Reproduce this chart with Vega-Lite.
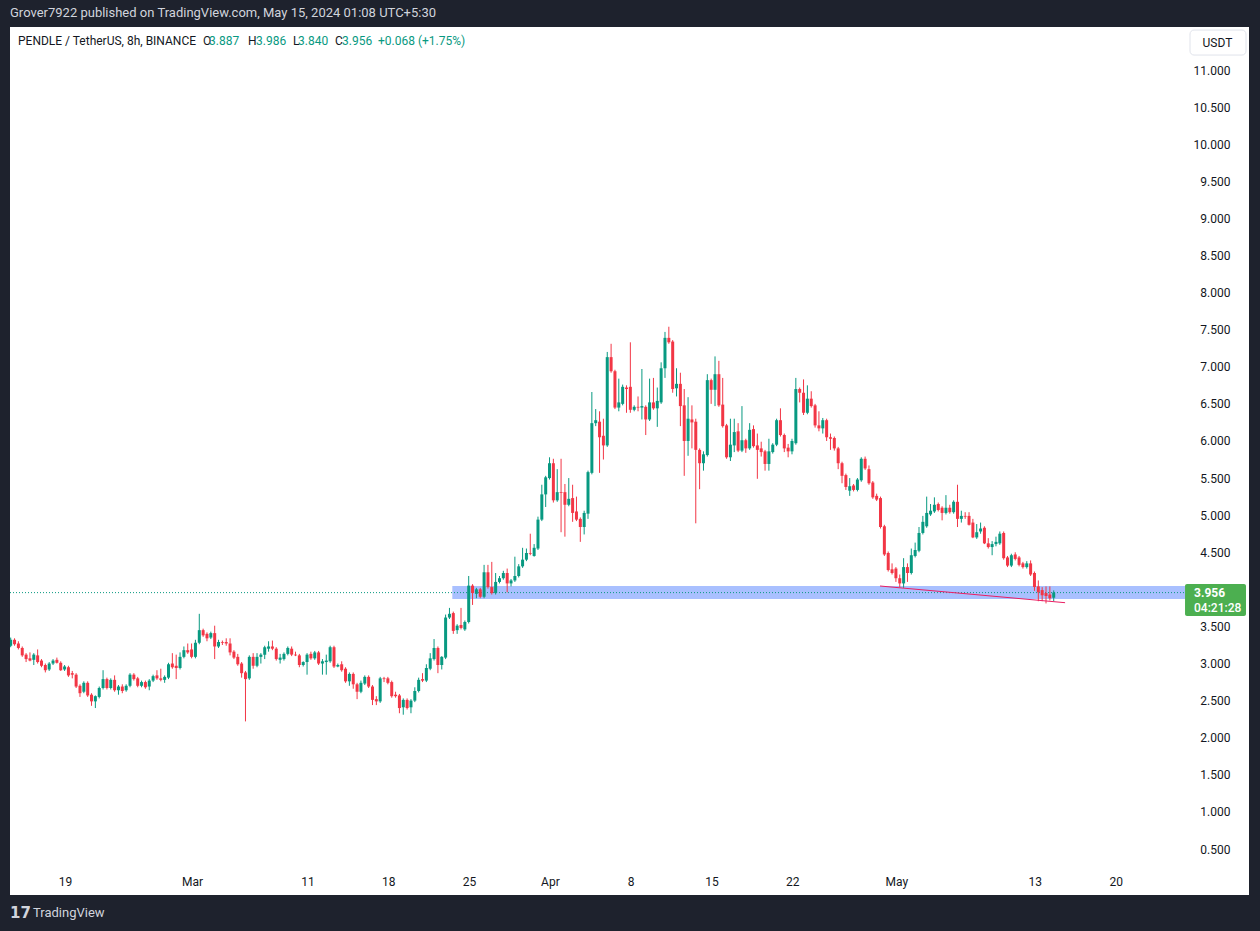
{
  "$schema": "https://vega.github.io/schema/vega-lite/v6.json",
  "description": "PENDLE / TetherUS 8h candlestick chart, TradingView snapshot",
  "width": 1239,
  "height": 868,
  "autosize": {"type": "none"},
  "padding": {"left": 10, "top": 27, "right": 11, "bottom": 36},
  "background": "#1e222d",
  "title": {
    "text": "Grover7922 published on TradingView.com, May 15, 2024 01:08 UTC+5:30",
    "anchor": "start",
    "frame": "group",
    "color": "#d1d4dc",
    "font": "Roboto",
    "fontSize": 13,
    "fontWeight": "normal",
    "offset": 7
  },
  "datasets": {
    "candles": [
      {"t":"2024-02-14T13:30Z","o":3.24,"h":3.35,"l":3.22,"c":3.32},
      {"t":"2024-02-14T21:30Z","o":3.32,"h":3.34,"l":3.24,"c":3.26},
      {"t":"2024-02-15T05:30Z","o":3.27,"h":3.30,"l":3.19,"c":3.21},
      {"t":"2024-02-15T13:30Z","o":3.21,"h":3.23,"l":3.09,"c":3.11},
      {"t":"2024-02-15T21:30Z","o":3.12,"h":3.14,"l":3.02,"c":3.06},
      {"t":"2024-02-16T05:30Z","o":3.07,"h":3.15,"l":3.03,"c":3.04},
      {"t":"2024-02-16T13:30Z","o":3.05,"h":3.14,"l":2.98,"c":3.12},
      {"t":"2024-02-16T21:30Z","o":3.11,"h":3.19,"l":3.00,"c":3.02},
      {"t":"2024-02-17T05:30Z","o":3.04,"h":3.06,"l":2.95,"c":2.97},
      {"t":"2024-02-17T13:30Z","o":2.98,"h":3.00,"l":2.88,"c":2.91},
      {"t":"2024-02-17T21:30Z","o":2.92,"h":3.02,"l":2.90,"c":3.00},
      {"t":"2024-02-18T05:30Z","o":3.00,"h":3.06,"l":2.98,"c":3.04},
      {"t":"2024-02-18T13:30Z","o":3.05,"h":3.08,"l":3.00,"c":3.01},
      {"t":"2024-02-18T21:30Z","o":3.01,"h":3.03,"l":2.90,"c":2.91},
      {"t":"2024-02-19T05:30Z","o":2.92,"h":2.98,"l":2.90,"c":2.96},
      {"t":"2024-02-19T13:30Z","o":2.95,"h":2.97,"l":2.82,"c":2.84},
      {"t":"2024-02-19T21:30Z","o":2.87,"h":2.90,"l":2.80,"c":2.85},
      {"t":"2024-02-20T05:30Z","o":2.85,"h":2.87,"l":2.67,"c":2.69},
      {"t":"2024-02-20T13:30Z","o":2.70,"h":2.72,"l":2.55,"c":2.60},
      {"t":"2024-02-20T21:30Z","o":2.62,"h":2.76,"l":2.60,"c":2.74},
      {"t":"2024-02-21T05:30Z","o":2.74,"h":2.76,"l":2.55,"c":2.57},
      {"t":"2024-02-21T13:30Z","o":2.58,"h":2.60,"l":2.43,"c":2.49},
      {"t":"2024-02-21T21:30Z","o":2.49,"h":2.57,"l":2.40,"c":2.56},
      {"t":"2024-02-22T05:30Z","o":2.55,"h":2.69,"l":2.53,"c":2.67},
      {"t":"2024-02-22T13:30Z","o":2.67,"h":2.91,"l":2.65,"c":2.79},
      {"t":"2024-02-22T21:30Z","o":2.79,"h":2.81,"l":2.65,"c":2.67},
      {"t":"2024-02-23T05:30Z","o":2.67,"h":2.80,"l":2.65,"c":2.78},
      {"t":"2024-02-23T13:30Z","o":2.78,"h":2.84,"l":2.62,"c":2.64},
      {"t":"2024-02-23T21:30Z","o":2.64,"h":2.71,"l":2.58,"c":2.69},
      {"t":"2024-02-24T05:30Z","o":2.69,"h":2.72,"l":2.60,"c":2.63},
      {"t":"2024-02-24T13:30Z","o":2.64,"h":2.72,"l":2.62,"c":2.70},
      {"t":"2024-02-24T21:30Z","o":2.70,"h":2.87,"l":2.68,"c":2.85},
      {"t":"2024-02-25T05:30Z","o":2.85,"h":2.87,"l":2.77,"c":2.79},
      {"t":"2024-02-25T13:30Z","o":2.80,"h":2.82,"l":2.68,"c":2.70},
      {"t":"2024-02-25T21:30Z","o":2.70,"h":2.77,"l":2.68,"c":2.75},
      {"t":"2024-02-26T05:30Z","o":2.75,"h":2.77,"l":2.66,"c":2.68},
      {"t":"2024-02-26T13:30Z","o":2.69,"h":2.79,"l":2.64,"c":2.77},
      {"t":"2024-02-26T21:30Z","o":2.77,"h":2.85,"l":2.75,"c":2.83},
      {"t":"2024-02-27T05:30Z","o":2.84,"h":2.91,"l":2.78,"c":2.80},
      {"t":"2024-02-27T13:30Z","o":2.80,"h":2.93,"l":2.76,"c":2.78},
      {"t":"2024-02-27T21:30Z","o":2.78,"h":2.84,"l":2.74,"c":2.82},
      {"t":"2024-02-28T05:30Z","o":2.81,"h":3.01,"l":2.79,"c":2.99},
      {"t":"2024-02-28T13:30Z","o":3.00,"h":3.14,"l":2.93,"c":2.95},
      {"t":"2024-02-28T21:30Z","o":2.97,"h":3.12,"l":2.79,"c":2.94},
      {"t":"2024-02-29T05:30Z","o":2.94,"h":3.15,"l":2.92,"c":3.09},
      {"t":"2024-02-29T13:30Z","o":3.09,"h":3.23,"l":3.07,"c":3.18},
      {"t":"2024-02-29T21:30Z","o":3.18,"h":3.27,"l":3.13,"c":3.15},
      {"t":"2024-03-01T05:30Z","o":3.19,"h":3.27,"l":3.07,"c":3.09},
      {"t":"2024-03-01T13:30Z","o":3.09,"h":3.32,"l":3.07,"c":3.28},
      {"t":"2024-03-01T21:30Z","o":3.28,"h":3.67,"l":3.26,"c":3.45},
      {"t":"2024-03-02T05:30Z","o":3.45,"h":3.47,"l":3.36,"c":3.38},
      {"t":"2024-03-02T13:30Z","o":3.40,"h":3.42,"l":3.30,"c":3.34},
      {"t":"2024-03-02T21:30Z","o":3.35,"h":3.43,"l":3.33,"c":3.41},
      {"t":"2024-03-03T05:30Z","o":3.41,"h":3.51,"l":3.06,"c":3.23},
      {"t":"2024-03-03T13:30Z","o":3.23,"h":3.32,"l":3.21,"c":3.29},
      {"t":"2024-03-03T21:30Z","o":3.29,"h":3.31,"l":3.25,"c":3.28},
      {"t":"2024-03-04T05:30Z","o":3.29,"h":3.34,"l":3.24,"c":3.27},
      {"t":"2024-03-04T13:30Z","o":3.27,"h":3.34,"l":3.11,"c":3.15},
      {"t":"2024-03-04T21:30Z","o":3.16,"h":3.18,"l":3.06,"c":3.08},
      {"t":"2024-03-05T05:30Z","o":3.09,"h":3.13,"l":2.97,"c":2.99},
      {"t":"2024-03-05T13:30Z","o":3.00,"h":3.02,"l":2.81,"c":2.87},
      {"t":"2024-03-05T21:30Z","o":2.88,"h":2.90,"l":2.22,"c":2.79},
      {"t":"2024-03-06T05:30Z","o":2.80,"h":3.11,"l":2.78,"c":3.09},
      {"t":"2024-03-06T13:30Z","o":3.09,"h":3.14,"l":2.93,"c":2.97},
      {"t":"2024-03-06T21:30Z","o":2.97,"h":3.14,"l":2.95,"c":3.09},
      {"t":"2024-03-07T05:30Z","o":3.09,"h":3.14,"l":3.00,"c":3.12},
      {"t":"2024-03-07T13:30Z","o":3.12,"h":3.24,"l":3.06,"c":3.22},
      {"t":"2024-03-07T21:30Z","o":3.20,"h":3.30,"l":3.16,"c":3.23},
      {"t":"2024-03-08T05:30Z","o":3.23,"h":3.31,"l":3.18,"c":3.20},
      {"t":"2024-03-08T13:30Z","o":3.20,"h":3.22,"l":3.04,"c":3.06},
      {"t":"2024-03-08T21:30Z","o":3.05,"h":3.13,"l":3.00,"c":3.08},
      {"t":"2024-03-09T05:30Z","o":3.06,"h":3.15,"l":3.04,"c":3.13},
      {"t":"2024-03-09T13:30Z","o":3.13,"h":3.23,"l":3.11,"c":3.21},
      {"t":"2024-03-09T21:30Z","o":3.20,"h":3.23,"l":3.10,"c":3.12},
      {"t":"2024-03-10T05:30Z","o":3.12,"h":3.16,"l":3.10,"c":3.11},
      {"t":"2024-03-10T13:30Z","o":3.11,"h":3.13,"l":2.95,"c":2.98},
      {"t":"2024-03-10T21:30Z","o":2.98,"h":3.03,"l":2.96,"c":3.02},
      {"t":"2024-03-11T05:30Z","o":3.02,"h":3.14,"l":2.85,"c":3.12},
      {"t":"2024-03-11T13:30Z","o":3.13,"h":3.16,"l":3.05,"c":3.07},
      {"t":"2024-03-11T21:30Z","o":3.07,"h":3.17,"l":3.05,"c":3.15},
      {"t":"2024-03-12T05:30Z","o":3.15,"h":3.17,"l":2.98,"c":3.00},
      {"t":"2024-03-12T13:30Z","o":3.00,"h":3.06,"l":2.85,"c":3.03},
      {"t":"2024-03-12T21:30Z","o":3.02,"h":3.12,"l":2.85,"c":3.04},
      {"t":"2024-03-13T05:30Z","o":3.03,"h":3.24,"l":3.01,"c":3.22},
      {"t":"2024-03-13T13:30Z","o":3.22,"h":3.24,"l":2.94,"c":2.96},
      {"t":"2024-03-13T21:30Z","o":2.96,"h":3.00,"l":2.95,"c":2.98},
      {"t":"2024-03-14T05:30Z","o":2.99,"h":3.03,"l":2.89,"c":2.91},
      {"t":"2024-03-14T13:30Z","o":2.93,"h":2.95,"l":2.74,"c":2.76},
      {"t":"2024-03-14T21:30Z","o":2.76,"h":2.88,"l":2.70,"c":2.86},
      {"t":"2024-03-15T05:30Z","o":2.86,"h":2.88,"l":2.66,"c":2.72},
      {"t":"2024-03-15T13:30Z","o":2.72,"h":2.74,"l":2.52,"c":2.62},
      {"t":"2024-03-15T21:30Z","o":2.62,"h":2.77,"l":2.60,"c":2.74},
      {"t":"2024-03-16T05:30Z","o":2.73,"h":2.84,"l":2.71,"c":2.82},
      {"t":"2024-03-16T13:30Z","o":2.82,"h":2.84,"l":2.67,"c":2.69},
      {"t":"2024-03-16T21:30Z","o":2.69,"h":2.71,"l":2.44,"c":2.51},
      {"t":"2024-03-17T05:30Z","o":2.52,"h":2.56,"l":2.44,"c":2.49},
      {"t":"2024-03-17T13:30Z","o":2.49,"h":2.82,"l":2.47,"c":2.80},
      {"t":"2024-03-17T21:30Z","o":2.80,"h":2.82,"l":2.75,"c":2.79},
      {"t":"2024-03-18T05:30Z","o":2.80,"h":2.82,"l":2.72,"c":2.74},
      {"t":"2024-03-18T13:30Z","o":2.75,"h":2.77,"l":2.54,"c":2.56},
      {"t":"2024-03-18T21:30Z","o":2.58,"h":2.62,"l":2.54,"c":2.56},
      {"t":"2024-03-19T05:30Z","o":2.57,"h":2.59,"l":2.33,"c":2.40},
      {"t":"2024-03-19T13:30Z","o":2.41,"h":2.53,"l":2.31,"c":2.51},
      {"t":"2024-03-19T21:30Z","o":2.51,"h":2.53,"l":2.38,"c":2.40},
      {"t":"2024-03-20T05:30Z","o":2.41,"h":2.52,"l":2.33,"c":2.50},
      {"t":"2024-03-20T13:30Z","o":2.50,"h":2.68,"l":2.48,"c":2.63},
      {"t":"2024-03-20T21:30Z","o":2.63,"h":2.81,"l":2.61,"c":2.78},
      {"t":"2024-03-21T05:30Z","o":2.79,"h":2.87,"l":2.75,"c":2.77},
      {"t":"2024-03-21T13:30Z","o":2.77,"h":2.99,"l":2.75,"c":2.94},
      {"t":"2024-03-21T21:30Z","o":2.93,"h":3.14,"l":2.91,"c":3.07},
      {"t":"2024-03-22T05:30Z","o":3.06,"h":3.33,"l":3.04,"c":3.21},
      {"t":"2024-03-22T13:30Z","o":3.21,"h":3.23,"l":2.87,"c":2.98},
      {"t":"2024-03-22T21:30Z","o":2.98,"h":3.10,"l":2.92,"c":3.09},
      {"t":"2024-03-23T05:30Z","o":3.08,"h":3.66,"l":3.06,"c":3.62},
      {"t":"2024-03-23T13:30Z","o":3.62,"h":3.75,"l":3.60,"c":3.67},
      {"t":"2024-03-23T21:30Z","o":3.68,"h":3.70,"l":3.40,"c":3.44},
      {"t":"2024-03-24T05:30Z","o":3.45,"h":3.53,"l":3.40,"c":3.51},
      {"t":"2024-03-24T13:30Z","o":3.52,"h":3.75,"l":3.46,"c":3.48},
      {"t":"2024-03-24T21:30Z","o":3.46,"h":3.58,"l":3.44,"c":3.56},
      {"t":"2024-03-25T05:30Z","o":3.56,"h":4.18,"l":3.54,"c":4.05},
      {"t":"2024-03-25T13:30Z","o":4.05,"h":4.07,"l":3.79,"c":3.95},
      {"t":"2024-03-25T21:30Z","o":3.94,"h":4.02,"l":3.88,"c":4.00},
      {"t":"2024-03-26T05:30Z","o":4.00,"h":4.02,"l":3.88,"c":3.90},
      {"t":"2024-03-26T13:30Z","o":3.90,"h":4.33,"l":3.88,"c":4.23},
      {"t":"2024-03-26T21:30Z","o":4.23,"h":4.33,"l":4.01,"c":4.03},
      {"t":"2024-03-27T05:30Z","o":4.03,"h":4.37,"l":3.93,"c":3.95},
      {"t":"2024-03-27T13:30Z","o":3.95,"h":4.22,"l":3.93,"c":4.10},
      {"t":"2024-03-27T21:30Z","o":4.10,"h":4.18,"l":4.08,"c":4.15},
      {"t":"2024-03-28T05:30Z","o":4.15,"h":4.25,"l":4.13,"c":4.22},
      {"t":"2024-03-28T13:30Z","o":4.22,"h":4.28,"l":3.96,"c":4.08},
      {"t":"2024-03-28T21:30Z","o":4.08,"h":4.14,"l":4.04,"c":4.12},
      {"t":"2024-03-29T05:30Z","o":4.12,"h":4.44,"l":4.10,"c":4.18},
      {"t":"2024-03-29T13:30Z","o":4.18,"h":4.34,"l":4.16,"c":4.31},
      {"t":"2024-03-29T21:30Z","o":4.31,"h":4.56,"l":4.29,"c":4.40},
      {"t":"2024-03-30T05:30Z","o":4.40,"h":4.55,"l":4.38,"c":4.49},
      {"t":"2024-03-30T13:30Z","o":4.49,"h":4.75,"l":4.46,"c":4.48},
      {"t":"2024-03-30T21:30Z","o":4.45,"h":4.61,"l":4.44,"c":4.56},
      {"t":"2024-03-31T05:30Z","o":4.55,"h":4.98,"l":4.53,"c":4.94},
      {"t":"2024-03-31T13:30Z","o":4.94,"h":5.41,"l":4.92,"c":5.28},
      {"t":"2024-03-31T21:30Z","o":5.28,"h":5.53,"l":5.11,"c":5.51},
      {"t":"2024-04-01T05:30Z","o":5.50,"h":5.78,"l":5.48,"c":5.70},
      {"t":"2024-04-01T13:30Z","o":5.70,"h":5.76,"l":5.17,"c":5.20},
      {"t":"2024-04-01T21:30Z","o":5.20,"h":5.62,"l":5.18,"c":5.31},
      {"t":"2024-04-02T05:30Z","o":5.31,"h":5.76,"l":4.77,"c":5.30},
      {"t":"2024-04-02T13:30Z","o":5.31,"h":5.42,"l":4.71,"c":5.14},
      {"t":"2024-04-02T21:30Z","o":5.14,"h":5.50,"l":5.12,"c":5.22},
      {"t":"2024-04-03T05:30Z","o":5.23,"h":5.41,"l":4.91,"c":5.03},
      {"t":"2024-04-03T13:30Z","o":5.05,"h":5.25,"l":4.92,"c":4.94},
      {"t":"2024-04-03T21:30Z","o":4.95,"h":4.97,"l":4.64,"c":4.84},
      {"t":"2024-04-04T05:30Z","o":4.84,"h":5.06,"l":4.74,"c":5.03},
      {"t":"2024-04-04T13:30Z","o":5.02,"h":5.60,"l":4.95,"c":5.58},
      {"t":"2024-04-04T21:30Z","o":5.57,"h":6.66,"l":5.55,"c":6.24},
      {"t":"2024-04-05T05:30Z","o":6.24,"h":6.43,"l":6.20,"c":6.28},
      {"t":"2024-04-05T13:30Z","o":6.26,"h":6.40,"l":5.57,"c":6.05},
      {"t":"2024-04-05T21:30Z","o":6.07,"h":6.30,"l":5.75,"c":5.94},
      {"t":"2024-04-06T05:30Z","o":5.94,"h":7.20,"l":5.92,"c":7.13},
      {"t":"2024-04-06T13:30Z","o":7.13,"h":7.31,"l":6.92,"c":6.94},
      {"t":"2024-04-06T21:30Z","o":6.94,"h":6.96,"l":6.43,"c":6.45},
      {"t":"2024-04-07T05:30Z","o":6.45,"h":6.84,"l":6.40,"c":6.52},
      {"t":"2024-04-07T13:30Z","o":6.50,"h":6.76,"l":6.48,"c":6.73},
      {"t":"2024-04-07T21:30Z","o":6.72,"h":6.75,"l":6.38,"c":6.70},
      {"t":"2024-04-08T05:30Z","o":6.73,"h":7.33,"l":6.38,"c":6.42},
      {"t":"2024-04-08T13:30Z","o":6.42,"h":6.48,"l":6.40,"c":6.46},
      {"t":"2024-04-08T21:30Z","o":6.46,"h":6.60,"l":6.40,"c":6.45},
      {"t":"2024-04-09T05:30Z","o":6.45,"h":6.97,"l":6.29,"c":6.47},
      {"t":"2024-04-09T13:30Z","o":6.46,"h":6.48,"l":6.08,"c":6.29},
      {"t":"2024-04-09T21:30Z","o":6.29,"h":6.84,"l":6.27,"c":6.52},
      {"t":"2024-04-10T05:30Z","o":6.52,"h":6.85,"l":6.42,"c":6.44},
      {"t":"2024-04-10T13:30Z","o":6.44,"h":6.72,"l":6.19,"c":6.54},
      {"t":"2024-04-10T21:30Z","o":6.52,"h":7.06,"l":6.50,"c":6.98},
      {"t":"2024-04-11T05:30Z","o":6.98,"h":7.47,"l":6.85,"c":7.39},
      {"t":"2024-04-11T13:30Z","o":7.39,"h":7.54,"l":7.31,"c":7.33},
      {"t":"2024-04-11T21:30Z","o":7.34,"h":7.36,"l":6.65,"c":6.70},
      {"t":"2024-04-12T05:30Z","o":6.71,"h":6.98,"l":6.60,"c":6.77},
      {"t":"2024-04-12T13:30Z","o":6.77,"h":6.92,"l":6.20,"c":6.47},
      {"t":"2024-04-12T21:30Z","o":6.48,"h":6.70,"l":5.53,"c":6.00},
      {"t":"2024-04-13T05:30Z","o":6.00,"h":6.59,"l":5.80,"c":6.30},
      {"t":"2024-04-13T13:30Z","o":6.29,"h":6.48,"l":5.90,"c":6.25},
      {"t":"2024-04-13T21:30Z","o":6.26,"h":6.30,"l":4.89,"c":5.88},
      {"t":"2024-04-14T05:30Z","o":5.88,"h":5.90,"l":5.35,"c":5.70},
      {"t":"2024-04-14T13:30Z","o":5.70,"h":5.86,"l":5.60,"c":5.82},
      {"t":"2024-04-14T21:30Z","o":5.81,"h":6.90,"l":5.79,"c":6.82},
      {"t":"2024-04-15T05:30Z","o":6.82,"h":6.84,"l":6.50,"c":6.69},
      {"t":"2024-04-15T13:30Z","o":6.69,"h":7.14,"l":6.47,"c":6.90},
      {"t":"2024-04-15T21:30Z","o":6.90,"h":7.08,"l":6.46,"c":6.48},
      {"t":"2024-04-16T05:30Z","o":6.49,"h":6.85,"l":6.18,"c":6.20},
      {"t":"2024-04-16T13:30Z","o":6.21,"h":6.23,"l":5.76,"c":5.78},
      {"t":"2024-04-16T21:30Z","o":5.78,"h":6.30,"l":5.73,"c":5.95},
      {"t":"2024-04-17T05:30Z","o":5.94,"h":6.30,"l":5.85,"c":6.12},
      {"t":"2024-04-17T13:30Z","o":6.13,"h":6.24,"l":5.85,"c":5.87},
      {"t":"2024-04-17T21:30Z","o":5.87,"h":6.47,"l":5.85,"c":6.01},
      {"t":"2024-04-18T05:30Z","o":6.01,"h":6.03,"l":5.84,"c":5.90},
      {"t":"2024-04-18T13:30Z","o":5.90,"h":6.24,"l":5.88,"c":6.15},
      {"t":"2024-04-18T21:30Z","o":6.16,"h":6.21,"l":5.91,"c":5.93},
      {"t":"2024-04-19T05:30Z","o":5.94,"h":6.10,"l":5.49,"c":5.88},
      {"t":"2024-04-19T13:30Z","o":5.90,"h":5.99,"l":5.79,"c":5.85},
      {"t":"2024-04-19T21:30Z","o":5.86,"h":5.88,"l":5.60,"c":5.69},
      {"t":"2024-04-20T05:30Z","o":5.69,"h":6.03,"l":5.60,"c":5.86},
      {"t":"2024-04-20T13:30Z","o":5.85,"h":5.97,"l":5.83,"c":5.95},
      {"t":"2024-04-20T21:30Z","o":5.95,"h":6.30,"l":5.93,"c":6.28},
      {"t":"2024-04-21T05:30Z","o":6.28,"h":6.44,"l":6.06,"c":6.08},
      {"t":"2024-04-21T13:30Z","o":6.08,"h":6.10,"l":5.85,"c":5.90},
      {"t":"2024-04-21T21:30Z","o":5.91,"h":5.96,"l":5.78,"c":5.86},
      {"t":"2024-04-22T05:30Z","o":5.86,"h":6.03,"l":5.82,"c":6.00},
      {"t":"2024-04-22T13:30Z","o":5.97,"h":6.85,"l":5.95,"c":6.70},
      {"t":"2024-04-22T21:30Z","o":6.70,"h":6.72,"l":6.52,"c":6.65},
      {"t":"2024-04-23T05:30Z","o":6.65,"h":6.83,"l":6.35,"c":6.38},
      {"t":"2024-04-23T13:30Z","o":6.38,"h":6.75,"l":6.36,"c":6.57},
      {"t":"2024-04-23T21:30Z","o":6.57,"h":6.67,"l":6.45,"c":6.47},
      {"t":"2024-04-24T05:30Z","o":6.48,"h":6.50,"l":6.18,"c":6.21},
      {"t":"2024-04-24T13:30Z","o":6.21,"h":6.40,"l":6.13,"c":6.17},
      {"t":"2024-04-24T21:30Z","o":6.17,"h":6.31,"l":6.10,"c":6.28},
      {"t":"2024-04-25T05:30Z","o":6.28,"h":6.30,"l":6.00,"c":6.05},
      {"t":"2024-04-25T13:30Z","o":6.05,"h":6.10,"l":5.88,"c":6.03},
      {"t":"2024-04-25T21:30Z","o":6.04,"h":6.06,"l":5.87,"c":5.90},
      {"t":"2024-04-26T05:30Z","o":5.90,"h":5.92,"l":5.62,"c":5.70},
      {"t":"2024-04-26T13:30Z","o":5.70,"h":5.72,"l":5.43,"c":5.53},
      {"t":"2024-04-26T21:30Z","o":5.54,"h":5.56,"l":5.34,"c":5.38},
      {"t":"2024-04-27T05:30Z","o":5.33,"h":5.50,"l":5.26,"c":5.39},
      {"t":"2024-04-27T13:30Z","o":5.40,"h":5.42,"l":5.32,"c":5.34},
      {"t":"2024-04-27T21:30Z","o":5.34,"h":5.50,"l":5.32,"c":5.48},
      {"t":"2024-04-28T05:30Z","o":5.47,"h":5.78,"l":5.45,"c":5.76},
      {"t":"2024-04-28T13:30Z","o":5.76,"h":5.79,"l":5.61,"c":5.63},
      {"t":"2024-04-28T21:30Z","o":5.62,"h":5.67,"l":5.41,"c":5.43},
      {"t":"2024-04-29T05:30Z","o":5.44,"h":5.46,"l":5.22,"c":5.24},
      {"t":"2024-04-29T13:30Z","o":5.26,"h":5.29,"l":5.19,"c":5.21},
      {"t":"2024-04-29T21:30Z","o":5.23,"h":5.25,"l":4.82,"c":4.84},
      {"t":"2024-04-30T05:30Z","o":4.85,"h":4.87,"l":4.45,"c":4.47},
      {"t":"2024-04-30T13:30Z","o":4.49,"h":4.51,"l":4.24,"c":4.26},
      {"t":"2024-04-30T21:30Z","o":4.27,"h":4.35,"l":4.20,"c":4.22},
      {"t":"2024-05-01T05:30Z","o":4.28,"h":4.30,"l":4.10,"c":4.15},
      {"t":"2024-05-01T13:30Z","o":4.15,"h":4.20,"l":4.03,"c":4.08},
      {"t":"2024-05-01T21:30Z","o":4.08,"h":4.42,"l":4.02,"c":4.30},
      {"t":"2024-05-02T05:30Z","o":4.30,"h":4.35,"l":4.10,"c":4.22},
      {"t":"2024-05-02T13:30Z","o":4.22,"h":4.55,"l":4.20,"c":4.46},
      {"t":"2024-05-02T21:30Z","o":4.45,"h":4.63,"l":4.43,"c":4.53},
      {"t":"2024-05-03T05:30Z","o":4.52,"h":4.84,"l":4.50,"c":4.76},
      {"t":"2024-05-03T13:30Z","o":4.76,"h":4.99,"l":4.74,"c":4.91},
      {"t":"2024-05-03T21:30Z","o":4.85,"h":5.25,"l":4.83,"c":5.03},
      {"t":"2024-05-04T05:30Z","o":5.01,"h":5.15,"l":4.99,"c":5.06},
      {"t":"2024-05-04T13:30Z","o":5.05,"h":5.24,"l":5.03,"c":5.14},
      {"t":"2024-05-04T21:30Z","o":5.15,"h":5.17,"l":5.05,"c":5.07},
      {"t":"2024-05-05T05:30Z","o":5.10,"h":5.12,"l":4.93,"c":5.03},
      {"t":"2024-05-05T13:30Z","o":5.03,"h":5.27,"l":5.01,"c":5.10},
      {"t":"2024-05-05T21:30Z","o":5.10,"h":5.14,"l":5.02,"c":5.04},
      {"t":"2024-05-06T05:30Z","o":5.04,"h":5.20,"l":5.02,"c":5.18},
      {"t":"2024-05-06T13:30Z","o":5.18,"h":5.41,"l":4.84,"c":4.95},
      {"t":"2024-05-06T21:30Z","o":4.95,"h":5.06,"l":4.90,"c":4.99},
      {"t":"2024-05-07T05:30Z","o":4.99,"h":5.04,"l":4.95,"c":4.98},
      {"t":"2024-05-07T13:30Z","o":4.99,"h":5.04,"l":4.86,"c":4.87},
      {"t":"2024-05-07T21:30Z","o":4.90,"h":4.95,"l":4.69,"c":4.70},
      {"t":"2024-05-08T05:30Z","o":4.70,"h":4.88,"l":4.68,"c":4.77},
      {"t":"2024-05-08T13:30Z","o":4.78,"h":4.90,"l":4.75,"c":4.82},
      {"t":"2024-05-08T21:30Z","o":4.83,"h":4.85,"l":4.61,"c":4.62},
      {"t":"2024-05-09T05:30Z","o":4.62,"h":4.69,"l":4.55,"c":4.57},
      {"t":"2024-05-09T13:30Z","o":4.57,"h":4.65,"l":4.46,"c":4.61},
      {"t":"2024-05-09T21:30Z","o":4.61,"h":4.71,"l":4.58,"c":4.64},
      {"t":"2024-05-10T05:30Z","o":4.62,"h":4.78,"l":4.60,"c":4.75},
      {"t":"2024-05-10T13:30Z","o":4.76,"h":4.78,"l":4.40,"c":4.42},
      {"t":"2024-05-10T21:30Z","o":4.43,"h":4.45,"l":4.30,"c":4.32},
      {"t":"2024-05-11T05:30Z","o":4.32,"h":4.48,"l":4.30,"c":4.46},
      {"t":"2024-05-11T13:30Z","o":4.47,"h":4.50,"l":4.39,"c":4.41},
      {"t":"2024-05-11T21:30Z","o":4.43,"h":4.45,"l":4.31,"c":4.33},
      {"t":"2024-05-12T05:30Z","o":4.35,"h":4.37,"l":4.28,"c":4.30},
      {"t":"2024-05-12T13:30Z","o":4.30,"h":4.38,"l":4.28,"c":4.35},
      {"t":"2024-05-12T21:30Z","o":4.35,"h":4.39,"l":4.18,"c":4.20},
      {"t":"2024-05-13T05:30Z","o":4.22,"h":4.24,"l":3.98,"c":4.03},
      {"t":"2024-05-13T13:30Z","o":4.04,"h":4.12,"l":3.84,"c":3.96},
      {"t":"2024-05-13T21:30Z","o":3.99,"h":4.03,"l":3.84,"c":3.92},
      {"t":"2024-05-14T05:30Z","o":3.95,"h":4.04,"l":3.81,"c":3.91},
      {"t":"2024-05-14T13:30Z","o":3.93,"h":4.04,"l":3.85,"c":3.88},
      {"t":"2024-05-14T21:30Z","o":3.887,"h":3.986,"l":3.840,"c":3.956}
    ],
    "header": [
      {"s": "PENDLE / TetherUS, 8h, BINANCE", "t": "2024-02-15T04:41Z", "k": "label"},
      {"s": "O", "t": "2024-03-02T05:14Z", "k": "label"},
      {"s": "3.887", "t": "2024-03-02T17:41Z", "k": "value"},
      {"s": "H", "t": "2024-03-06T02:45Z", "k": "label"},
      {"s": "3.986", "t": "2024-03-06T19:22Z", "k": "value"},
      {"s": "L", "t": "2024-03-10T00:17Z", "k": "label"},
      {"s": "3.840", "t": "2024-03-10T10:41Z", "k": "value"},
      {"s": "C", "t": "2024-03-13T15:36Z", "k": "label"},
      {"s": "3.956", "t": "2024-03-14T06:09Z", "k": "value"},
      {"s": "+0.068 (+1.75%)", "t": "2024-03-17T08:58Z", "k": "value"}
    ]
  },
  "layer": [
    {
      "data": {"values": [{}]},
      "mark": {"type": "rect", "color": "#2962ff", "opacity": 0.4},
      "encoding": {
        "x": {
          "datum": {"year": 2024, "month": 3, "date": 23, "hours": 19, "minutes": 26, "utc": true},
          "type": "temporal",
          "scale": {
            "type": "utc",
            "padding": 0,
            "domain": [
              {"year": 2024, "month": 2, "date": 14, "hours": 12, "minutes": 3, "utc": true},
              {"year": 2024, "month": 5, "date": 31, "hours": 19, "minutes": 26, "utc": true}
            ]
          },
          "axis": {
            "orient": "bottom",
            "offset": -14,
            "title": null,
            "domain": false,
            "ticks": false,
            "tickSize": 0,
            "grid": false,
            "labelPadding": 0,
            "labelBaseline": "middle",
            "labelOffset": 3,
            "labelFlush": false,
            "labelOverlap": false,
            "labelFont": "Roboto",
            "labelFontSize": 12,
            "labelColor": "#131722",
            "values": [
              {"year": 2024, "month": 2, "date": 19, "utc": true},
              {"year": 2024, "month": 3, "date": 1, "utc": true},
              {"year": 2024, "month": 3, "date": 11, "utc": true},
              {"year": 2024, "month": 3, "date": 18, "utc": true},
              {"year": 2024, "month": 3, "date": 25, "utc": true},
              {"year": 2024, "month": 4, "date": 1, "utc": true},
              {"year": 2024, "month": 4, "date": 8, "utc": true},
              {"year": 2024, "month": 4, "date": 15, "utc": true},
              {"year": 2024, "month": 4, "date": 22, "utc": true},
              {"year": 2024, "month": 5, "date": 1, "utc": true},
              {"year": 2024, "month": 5, "date": 13, "utc": true},
              {"year": 2024, "month": 5, "date": 20, "utc": true}
            ],
            "labelExpr": "utcdate(datum.value) === 1 ? utcFormat(datum.value, '%b') : '' + utcdate(datum.value)"
          }
        },
        "x2": {"datum": {"year": 2024, "month": 5, "date": 26, "hours": 6, "minutes": 28, "utc": true}},
        "y": {
          "datum": 4.045,
          "type": "quantitative",
          "scale": {"domain": [-0.12, 11.58], "nice": false, "zero": false, "padding": 0},
          "axis": {
            "orient": "right",
            "offset": -19,
            "title": null,
            "domain": false,
            "ticks": false,
            "tickSize": 0,
            "grid": false,
            "labelPadding": 0,
            "labelAlign": "right",
            "labelBaseline": "middle",
            "labelFont": "Roboto",
            "labelFontSize": 12,
            "labelColor": "#131722",
            "format": ".3f",
            "values": [0.5, 1, 1.5, 2, 2.5, 3, 3.5, 4.5, 5, 5.5, 6, 6.5, 7, 7.5, 8, 8.5, 9, 9.5, 10, 10.5, 11]
          }
        },
        "y2": {"datum": 3.87}
      }
    },
    {
      "data": {"values": [{}]},
      "mark": {"type": "rule", "color": "#089981", "strokeDash": [1, 2], "strokeWidth": 1},
      "encoding": {
        "x": {"datum": {"year": 2024, "month": 2, "date": 14, "hours": 12, "minutes": 3, "utc": true}, "type": "temporal"},
        "x2": {"datum": {"year": 2024, "month": 5, "date": 26, "hours": 6, "minutes": 28, "utc": true}},
        "y": {"datum": 3.956, "type": "quantitative"}
      }
    },
    {
      "data": {"name": "candles"},
      "encoding": {
        "x": {"field": "t", "type": "temporal"},
        "color": {
          "condition": {"test": "datum.c >= datum.o", "value": "#089981"},
          "value": "#f23645"
        }
      },
      "layer": [
        {
          "mark": {"type": "rule", "strokeWidth": 1, "clip": true},
          "encoding": {
            "y": {"field": "l", "type": "quantitative"},
            "y2": {"field": "h"}
          }
        },
        {
          "mark": {"type": "bar", "size": 3, "clip": true},
          "encoding": {
            "y": {"field": "o", "type": "quantitative"},
            "y2": {"field": "c"}
          }
        }
      ]
    },
    {
      "data": {"values": [{}]},
      "mark": {"type": "rule", "color": "#e91e63", "strokeWidth": 1},
      "encoding": {
        "x": {"datum": {"year": 2024, "month": 4, "date": 29, "hours": 20, "minutes": 24, "utc": true}, "type": "temporal"},
        "x2": {"datum": {"year": 2024, "month": 5, "date": 15, "hours": 21, "minutes": 7, "utc": true}},
        "y": {"datum": 4.045, "type": "quantitative"},
        "y2": {"datum": 3.82}
      }
    },
    {
      "data": {"values": [{}]},
      "mark": {"type": "rect", "color": "#4caf50", "cornerRadius": 2},
      "encoding": {
        "x": {"datum": {"year": 2024, "month": 5, "date": 26, "hours": 6, "minutes": 28, "utc": true}, "type": "temporal"},
        "x2": {"datum": {"year": 2024, "month": 5, "date": 31, "hours": 13, "minutes": 12, "utc": true}},
        "y": {"datum": 4.072, "type": "quantitative"},
        "y2": {"datum": 3.641}
      }
    },
    {
      "data": {"values": [{}]},
      "mark": {"type": "text", "text": "3.956", "color": "#ffffff", "font": "Roboto", "fontSize": 12, "fontWeight": "bold", "align": "left", "baseline": "middle"},
      "encoding": {
        "x": {"datum": {"year": 2024, "month": 5, "date": 27, "hours": 1, "minutes": 12, "utc": true}, "type": "temporal"},
        "y": {"datum": 3.956, "type": "quantitative"}
      }
    },
    {
      "data": {"values": [{}]},
      "mark": {"type": "text", "text": "04:21:28", "color": "#ffffff", "font": "Roboto", "fontSize": 12, "fontWeight": 500, "align": "left", "baseline": "middle"},
      "encoding": {
        "x": {"datum": {"year": 2024, "month": 5, "date": 27, "hours": 1, "minutes": 12, "utc": true}, "type": "temporal"},
        "y": {"datum": 3.748, "type": "quantitative"}
      }
    },
    {
      "data": {"values": [{}]},
      "mark": {"type": "rect", "fill": "#ffffff", "stroke": "#e0e3eb", "strokeWidth": 1, "cornerRadius": 4},
      "encoding": {
        "x": {"datum": {"year": 2024, "month": 5, "date": 26, "hours": 16, "minutes": 48, "utc": true}, "type": "temporal"},
        "x2": {"datum": {"year": 2024, "month": 5, "date": 31, "hours": 13, "minutes": 12, "utc": true}},
        "y": {"datum": 11.539, "type": "quantitative"},
        "y2": {"datum": 11.202}
      }
    },
    {
      "data": {"values": [{}]},
      "mark": {"type": "text", "text": "USDT", "color": "#131722", "font": "Roboto", "fontSize": 12, "align": "center", "baseline": "middle"},
      "encoding": {
        "x": {"datum": {"year": 2024, "month": 5, "date": 29, "hours": 1, "minutes": 55, "utc": true}, "type": "temporal"},
        "y": {"datum": 11.364, "type": "quantitative"}
      }
    },
    {
      "data": {"name": "header"},
      "mark": {"type": "text", "font": "Roboto", "fontSize": 12, "align": "left", "baseline": "middle"},
      "encoding": {
        "x": {"field": "t", "type": "temporal"},
        "y": {"datum": 11.391, "type": "quantitative"},
        "text": {"field": "s"},
        "color": {
          "field": "k",
          "type": "nominal",
          "scale": {"domain": ["label", "value"], "range": ["#131722", "#089981"]},
          "legend": null
        }
      }
    },
    {
      "data": {"values": [{}]},
      "mark": {"type": "text", "text": "17", "color": "#d1d4dc", "font": "DejaVu Sans", "fontSize": 15, "fontWeight": "bold", "align": "left", "baseline": "middle"},
      "encoding": {
        "x": {"datum": {"year": 2024, "month": 2, "date": 14, "hours": 12, "minutes": 10, "utc": true}, "type": "temporal"},
        "y": {"datum": -0.363, "type": "quantitative"}
      }
    },
    {
      "data": {"values": [{}]},
      "mark": {"type": "text", "text": "TradingView", "color": "#d1d4dc", "font": "Roboto", "fontSize": 13, "align": "left", "baseline": "middle"},
      "encoding": {
        "x": {"datum": {"year": 2024, "month": 2, "date": 16, "hours": 11, "minutes": 51, "utc": true}, "type": "temporal"},
        "y": {"datum": -0.363, "type": "quantitative"}
      }
    }
  ],
  "config": {
    "view": {"fill": "#ffffff", "stroke": null},
    "text": {"font": "Roboto"}
  }
}
